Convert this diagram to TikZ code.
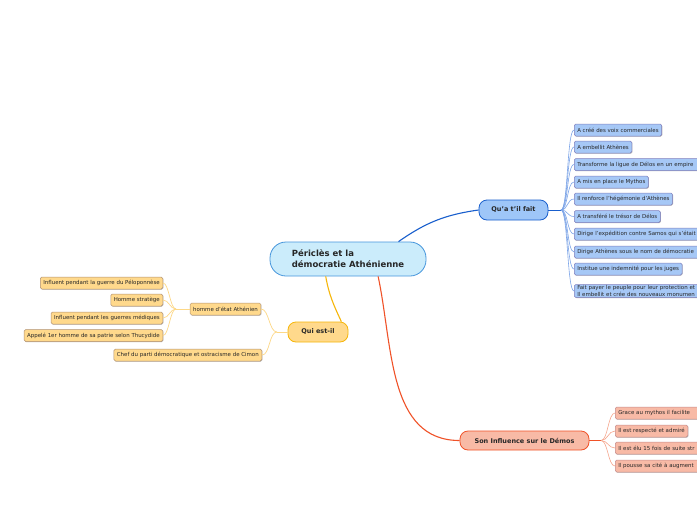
\documentclass[tikz,border=0pt]{standalone}
\usepackage{fontspec}
\setmainfont{DejaVu Sans}
\usetikzlibrary{shadows}

\definecolor{centrefill}{RGB}{203,236,251}
\definecolor{centredraw}{RGB}{70,150,220}
\definecolor{bluemain}{RGB}{25,95,205}
\definecolor{bluefill}{RGB}{158,198,248}
\definecolor{blueleaf}{RGB}{166,200,246}
\definecolor{bluefan}{RGB}{125,165,232}
\definecolor{orangemain}{RGB}{246,182,10}
\definecolor{orangefill}{RGB}{255,217,140}
\definecolor{orangefan}{RGB}{253,216,135}
\definecolor{redmain}{RGB}{240,82,40}
\definecolor{redfill}{RGB}{248,186,166}
\definecolor{redfan}{RGB}{246,165,140}

\tikzset{
  leafbox/.style={rounded corners=1.5pt, line width=0.5pt, inner xsep=3pt, inner ysep=1pt,
    minimum height=12pt, align=left, text=black!85, font=\fontsize{5.45}{6.6}\selectfont,
    drop shadow={shadow xshift=0.6pt, shadow yshift=-0.6pt, opacity=0.3, fill=black}},
  bleaf/.style={leafbox, fill=blueleaf, draw=black!50!blue!50},
  oleaf/.style={leafbox, fill=orangefill, draw=black!55!orange!55},
  rleaf/.style={leafbox, fill=redfill, draw=black!50!red!45},
  branch/.style={rounded corners=8pt, line width=0.8pt, minimum height=20pt,
    font=\fontsize{6.5}{7}\selectfont\bfseries, text=black!85},
  bfan/.style={bluefan, line width=0.6pt},
  ofan/.style={orangefan, line width=0.7pt},
  rfan/.style={redfan, line width=0.6pt}
}

\begin{document}
\begin{tikzpicture}[x=1pt, y=-1pt]
        \clip (0,0) rectangle (697,520);
        \fill[white] (0,0) rectangle (697,520);
        % Centre
        \node[rounded corners=16pt, fill=centrefill, draw=centredraw, line width=0.8pt,
          minimum width=156pt, minimum height=34pt, align=left, text=black!85,
          font=\fontsize{8.5}{11}\selectfont\bfseries] (perikles) at (348,259)
          {Périclès et la\\démocratie Athénienne};
        % Main branches
        \node[branch, fill=bluefill, draw=bluemain, minimum width=69pt] (faits) at (513.5,210) {Qu'a t'il fait};
        \node[branch, fill=orangefill, draw=orangemain, minimum width=60pt] (quiest) at (318,332) {Qui est-il};
        \node[branch, fill=redfill, draw=redmain, minimum width=129pt, minimum height=19pt] (influence) at (524.5,440.5) {Son Influence sur le Démos};
        \draw[bluemain, line width=1.1pt] (perikles.19) to[out=35, in=188] (faits.west);
        \draw[orangemain, line width=1.1pt] (perikles.218) to[out=-80, in=115] (quiest.24);
        \draw[redmain, line width=1.1pt] (perikles.-30) to[out=-78, in=180] (influence.west);
        % Hubs
        \coordinate (hubF) at (561,210);
        \coordinate (hubI) at (601,440.5);
        \coordinate (hubQ) at (277,332);
        \coordinate (hubH) at (176,309);
        \draw[bluemain, line width=0.9pt] (faits.east) -- (hubF);
        \draw[redmain, line width=0.9pt] (influence.east) -- (hubI);
        \draw[ofan] (quiest.west) -- (hubQ);
        % Qu'a t'il fait
        \foreach \i/\y/\txt in {1/130/{A créé des voix commerciales}, 2/147/{A embellit Athènes},
          4/182/{A mis en place le Mythos}, 5/199/{Il renforce l'hégémonie d'Athènes},
          6/216.5/{A transféré le trésor de Délos}, 9/269/{Institue une indemnité pour les juges}} {
          \node[bleaf, anchor=west] (f\i) at (574,\y) {\txt};
        }
        \foreach \i/\y/\txt in {3/164.5/{Transforme la ligue de Délos en un empire},
          7/234/{Dirige l'expédition contre Samos qui s'était},
          8/252/{Dirige Athènes sous le nom de démocratie},
          10/291/{Fait payer le peuple pour leur protection et\\Il embellit et crée des nouveaux monumen}} {
          \node[bleaf, anchor=west, text width=140pt] (f\i) at (574,\y) {\txt};
        }
        \foreach \i in {1,...,10} {
          \draw[bfan] (hubF) .. controls +(7,0) and +(-7,0) .. (f\i.west);
        }
        % Son Influence sur le Demos
        \foreach \i/\y/\txt in {1/413/{Grace au mythos il facilite}, 3/448/{Il est élu 15 fois de suite str},
          4/466/{Il pousse sa cité à augment}} {
          \node[rleaf, anchor=west, text width=100pt] (s\i) at (615,\y) {\txt};
        }
        \node[rleaf, anchor=west] (s2) at (615,431) {Il est respecté et admiré};
        \foreach \i in {1,...,4} {
          \draw[rfan] (hubI) .. controls +(7,0) and +(-7,0) .. (s\i.west);
        }
        % Qui est-il
        \node[oleaf] (homme) at (225.5,309) {homme d'état Athénien};
        \node[oleaf, anchor=east] (chef) at (262,355) {Chef du parti démocratique et ostracisme de Cimon};
        \draw[ofan] (hubQ) .. controls +(-8,0) and +(8,0) .. (homme.east);
        \draw[ofan] (hubQ) .. controls +(-8,0) and +(8,0) .. (chef.east);
        \draw[ofan] (homme.west) -- (hubH);
        \foreach \i/\y/\txt in {1/283/{Influent pendant la guerre du Péloponnèse}, 2/300/{Homme stratège},
          3/318/{Influent pendant les guerres médiques}, 4/335.5/{Appelé 1er homme de sa patrie selon Thucydide}} {
          \node[oleaf, anchor=east] (q\i) at (163,\y) {\txt};
          \draw[ofan] (hubH) .. controls +(-6,0) and +(6,0) .. (q\i.east);
        }
      \end{tikzpicture}
\end{document}
